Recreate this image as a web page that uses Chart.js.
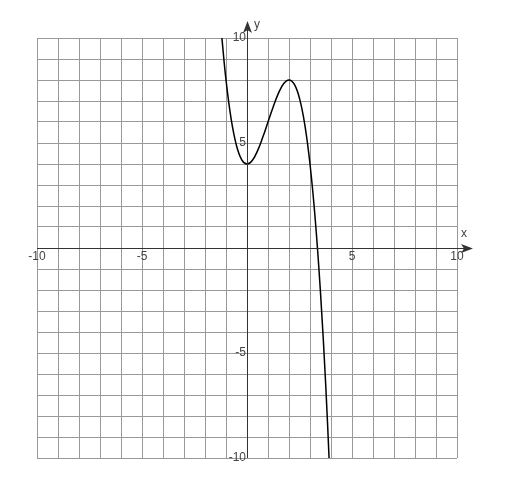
<!DOCTYPE html>
<html><head><meta charset="utf-8">
<script src="https://cdn.jsdelivr.net/npm/chart.js@4"></script>
<style>html,body{margin:0;padding:0;background:#fff}#w{width:529px;height:494px}</style>
</head><body><div id="w"><canvas id="c"></canvas></div>
<script>
const xValues=[-1.2,-1,-0.75,-0.5,-0.25,0,0.25,0.5,0.75,1,1.25,1.5,1.75,2,2.25,2.5,2.75,3,3.25,3.5,3.75,3.91];
const yValues=[10.05,8,6.11,4.875,4.2,4,4.17,4.625,5.27,6,6.73,7.375,7.83,8,7.8,7.125,5.89,4,1.36,-2.125,-6.55,-10.05];
const xTickLabels=[-10,-5,5,10];
const yTickLabels=[10,5,-5,-10];
const pts=xValues.map((x,i)=>({x,y:yValues[i]}));
const axesPlugin={id:'axes',afterDatasetsDraw(ch){
 const c=ch.ctx,xs=ch.scales.x,ys=ch.scales.y;
 const x0=xs.getPixelForValue(0),y0=ys.getPixelForValue(0);
 c.save();c.strokeStyle='#333';c.fillStyle='#333';c.lineWidth=1;
 c.beginPath();c.moveTo(xs.left,y0+0.5);c.lineTo(xs.right+12,y0+0.5);c.moveTo(x0+0.5,ys.bottom);c.lineTo(x0+0.5,ys.top-13);c.stroke();
 c.beginPath();c.moveTo(xs.right+16,y0+0.5);c.lineTo(xs.right+4,y0-4);c.lineTo(xs.right+7,y0+0.5);c.lineTo(xs.right+4,y0+5);c.closePath();c.fill();
 c.beginPath();c.moveTo(x0+0.5,ys.top-17);c.lineTo(x0-4,ys.top-5);c.lineTo(x0+0.5,ys.top-8);c.lineTo(x0+5,ys.top-5);c.closePath();c.fill();
 c.font='12px "Liberation Sans", Arial';c.fillStyle='#444';
 c.textAlign='center';c.textBaseline='top';
 xTickLabels.forEach(v=>c.fillText(String(v),xs.getPixelForValue(v),y0+3));
 c.textAlign='right';c.textBaseline='middle';
 yTickLabels.forEach(v=>c.fillText(String(v),x0-1,ys.getPixelForValue(v)));
 c.textAlign='left';c.fillText('x',xs.right+4,y0-14);c.fillText('y',x0+7,ys.top-13);
 c.restore();}};
new Chart(document.getElementById('c'),{type:'scatter',
 data:{datasets:[{data:pts,showLine:true,borderColor:'#000',borderWidth:1.5,pointRadius:0,tension:0.4,fill:false}]},
 options:{responsive:true,maintainAspectRatio:false,animation:false,
  layout:{padding:{left:37,top:38,right:72,bottom:36}},
  plugins:{legend:{display:false},tooltip:{enabled:false}},
  scales:{x:{type:'linear',min:-10,max:10,ticks:{stepSize:1,display:false},grid:{color:'#999',drawTicks:false},border:{display:false}},
   y:{type:'linear',min:-10,max:10,ticks:{stepSize:1,display:false},grid:{color:'#999',drawTicks:false},border:{display:false}}}},
 plugins:[axesPlugin]});
</script></body></html>
